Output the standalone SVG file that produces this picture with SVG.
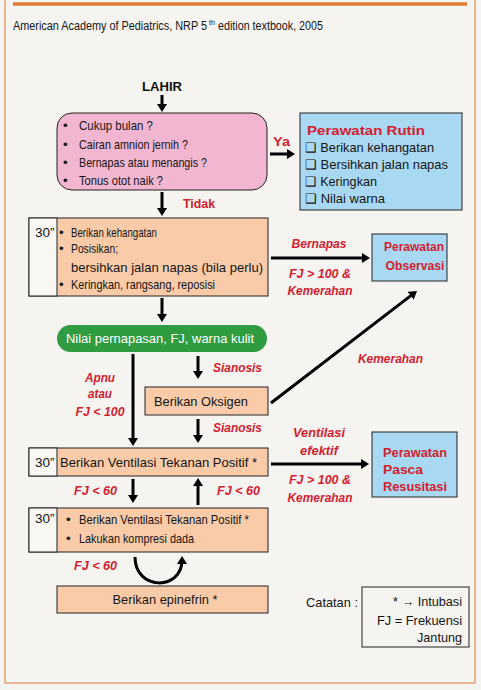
<svg xmlns="http://www.w3.org/2000/svg" width="481" height="690" viewBox="0 0 481 690">
<style>
.n{font-family:"Liberation Sans Narrow","Liberation Sans",Arial,sans-serif;font-size:13.5px;fill:#151515}
.r{font-family:"Liberation Sans",Arial,sans-serif;font-size:13px;fill:#151515}
.lbl{font-family:"Liberation Sans Narrow","Liberation Sans",Arial,sans-serif;font-size:13px;font-weight:bold;font-style:italic;fill:#d3212f}
.hd{font-family:"Liberation Sans",Arial,sans-serif;font-size:13px;font-weight:bold;fill:#d3212f}
.box{stroke:#222;stroke-width:1}
.peach{fill:#f9cba9}
.cell{fill:#f8f7f4}
.blue{fill:#a9d8f2}
.arr{stroke:#000;stroke-width:3;fill:none;marker-end:url(#ah)}
.mid{text-anchor:middle}
.end{text-anchor:end}
</style>
<defs>
<marker id="ah" markerUnits="userSpaceOnUse" viewBox="0 0 8 10" markerWidth="8" markerHeight="10" refX="4" refY="5" orient="auto">
<path d="M0,0 L8,5 L0,10 z" fill="#000"/>
</marker>
</defs>
<rect width="481" height="690" fill="#f6f4f1"/>
<g id="frame">
<path d="M5,0 V683 H475 V0" fill="none" stroke="#eba074" stroke-width="1.5"/>
<line x1="13" y1="4" x2="467" y2="4" stroke="#e27a32" stroke-width="3.5"/>
<text class="n" x="13" y="30" style="font-size:12.5px" textLength="194" lengthAdjust="spacingAndGlyphs">American Academy of Pediatrics, NRP 5</text>
<text class="n" x="209" y="24.5" style="font-size:7px">th</text>
<text class="n" x="218" y="30" style="font-size:12.5px" textLength="105" lengthAdjust="spacingAndGlyphs">edition textbook, 2005</text>
</g>
<g id="lahir">
<text x="162" y="91" class="mid" font-family="Liberation Sans, Arial, sans-serif" font-size="13" font-weight="bold" fill="#111" textLength="40" lengthAdjust="spacingAndGlyphs">LAHIR</text>
</g>
<g id="penilaian">
<rect x="57" y="113" width="210" height="77" rx="15" fill="#f2b6d0" class="box"/>
<text class="n" x="63" y="130">•</text><text class="n" x="79" y="130" textLength="74" lengthAdjust="spacingAndGlyphs">Cukup bulan ?</text>
<text class="n" x="63" y="148.5">•</text><text class="n" x="79" y="148.5" textLength="109" lengthAdjust="spacingAndGlyphs">Cairan amnion jernih ?</text>
<text class="n" x="63" y="167">•</text><text class="n" x="79" y="167" textLength="128" lengthAdjust="spacingAndGlyphs">Bernapas atau menangis ?</text>
<text class="n" x="63" y="185">•</text><text class="n" x="79" y="185" textLength="84" lengthAdjust="spacingAndGlyphs">Tonus otot naik ?</text>
</g>
<g id="rutin">
<rect x="300" y="113" width="162" height="97" class="blue box" stroke-width="1.5"/>
<text class="hd" x="307" y="135" textLength="118" lengthAdjust="spacingAndGlyphs">Perawatan Rutin</text>
<text class="r" x="305" y="152" textLength="129" lengthAdjust="spacingAndGlyphs">❑ Berikan kehangatan</text>
<text class="r" x="305" y="169" textLength="143" lengthAdjust="spacingAndGlyphs">❑ Bersihkan jalan napas</text>
<text class="r" x="305" y="186" textLength="72" lengthAdjust="spacingAndGlyphs">❑ Keringkan</text>
<text class="r" x="305" y="203" textLength="80" lengthAdjust="spacingAndGlyphs">❑ Nilai warna</text>
</g>
<g id="langkah-awal">
<rect x="29" y="218" width="239" height="78" class="peach box"/>
<rect x="29" y="218" width="28" height="78" class="cell box"/>
<text class="n" x="35" y="237">30”</text>
<text class="n" x="59" y="237">•</text><text class="n" x="71" y="237" textLength="86" lengthAdjust="spacingAndGlyphs">Berikan kehangatan</text>
<text class="n" x="59" y="253">•</text><text class="n" x="71" y="253" textLength="47" lengthAdjust="spacingAndGlyphs">Posisikan;</text>
<text class="r" x="71" y="272" textLength="192" lengthAdjust="spacingAndGlyphs">bersihkan jalan napas (bila perlu)</text>
<text class="n" x="59" y="289">•</text><text class="n" x="71" y="289" textLength="144" lengthAdjust="spacingAndGlyphs">Keringkan, rangsang, reposisi</text>
</g>
<g id="observasi">
<rect x="372" y="234" width="75" height="47" class="blue box" stroke-width="1.5"/>
<text class="hd mid" x="414" y="251" textLength="60" lengthAdjust="spacingAndGlyphs">Perawatan</text>
<text class="hd mid" x="415" y="270" textLength="59" lengthAdjust="spacingAndGlyphs">Observasi</text>
</g>
<g id="nilai">
<rect x="57" y="325" width="210" height="27" rx="13.5" fill="#2f9c42"/>
<text class="r mid" x="160" y="343" style="fill:#fff" textLength="188" lengthAdjust="spacingAndGlyphs">Nilai pernapasan, FJ, warna kulit</text>
</g>
<g id="oksigen">
<rect x="145" y="387" width="123" height="28" class="peach box"/>
<text class="r" x="154" y="406" textLength="94" lengthAdjust="spacingAndGlyphs">Berikan Oksigen</text>
</g>
<g id="vtp">
<rect x="29" y="448" width="239" height="28" class="peach box"/>
<rect x="29" y="448" width="28" height="28" class="cell box"/>
<text class="n" x="35" y="467">30”</text>
<text class="r" x="60" y="467" textLength="197" lengthAdjust="spacingAndGlyphs">Berikan Ventilasi Tekanan Positif *</text>
</g>
<g id="pasca">
<rect x="372" y="432" width="85" height="65" class="blue box" stroke-width="1.5"/>
<text class="hd" x="383" y="457" textLength="64" lengthAdjust="spacingAndGlyphs">Perawatan</text>
<text class="hd" x="383" y="474" textLength="40" lengthAdjust="spacingAndGlyphs">Pasca</text>
<text class="hd" x="383" y="491" textLength="64" lengthAdjust="spacingAndGlyphs">Resusitasi</text>
</g>
<g id="kompresi">
<rect x="29" y="508" width="239" height="44" class="peach box"/>
<rect x="29" y="508" width="28" height="44" class="cell box"/>
<text class="n" x="35" y="523">30”</text>
<text class="n" x="66" y="524">•</text><text class="n" x="79" y="524" textLength="170" lengthAdjust="spacingAndGlyphs">Berikan Ventilasi Tekanan Positif *</text>
<text class="n" x="66" y="543">•</text><text class="n" x="79" y="543" textLength="115" lengthAdjust="spacingAndGlyphs">Lakukan kompresi dada</text>
</g>
<g id="epinefrin">
<rect x="57" y="586" width="211" height="27" class="peach box"/>
<text class="n mid" x="165" y="604" textLength="105" lengthAdjust="spacingAndGlyphs">Berikan epinefrin *</text>
</g>
<g id="catatan">
<text class="r" x="306" y="607" textLength="52" lengthAdjust="spacingAndGlyphs">Catatan :</text>
<rect x="362" y="587" width="107" height="60" fill="none" class="box"/>
<text class="r end" x="462" y="606" textLength="69" lengthAdjust="spacingAndGlyphs">* → Intubasi</text>
<text class="r end" x="462" y="625" textLength="85" lengthAdjust="spacingAndGlyphs">FJ = Frekuensi</text>
<text class="r end" x="462" y="642" textLength="45" lengthAdjust="spacingAndGlyphs">Jantung</text>
</g>
<g id="connectors">
<line class="arr" x1="162" y1="95" x2="162" y2="108"/>
<line class="arr" x1="270" y1="154" x2="291" y2="154"/>
<line class="arr" x1="162" y1="192" x2="162" y2="212"/>
<line class="arr" x1="271" y1="258" x2="366" y2="258"/>
<line class="arr" x1="162" y1="298" x2="162" y2="318"/>
<line class="arr" x1="133" y1="354" x2="133" y2="442"/>
<line class="arr" x1="198" y1="356" x2="198" y2="375"/>
<line class="arr" x1="271" y1="403" x2="413.8" y2="293.4"/>
<line class="arr" x1="198" y1="419" x2="198" y2="439"/>
<line class="arr" x1="271" y1="464" x2="365" y2="464"/>
<line class="arr" x1="133" y1="479" x2="133" y2="499"/>
<line class="arr" x1="198" y1="505" x2="198" y2="482"/>
<path class="arr" d="M135,557 C135,591 182,591 182,560"/>
<text class="lbl" x="273" y="146" textLength="17" lengthAdjust="spacingAndGlyphs" style="font-style:normal">Ya</text>
<text class="lbl" x="183" y="208" textLength="32" lengthAdjust="spacingAndGlyphs" style="font-style:normal">Tidak</text>
<text class="lbl mid" x="319" y="248" textLength="55" lengthAdjust="spacingAndGlyphs">Bernapas</text>
<text class="lbl mid" x="320" y="278" textLength="62" lengthAdjust="spacingAndGlyphs">FJ &gt; 100 &amp;</text>
<text class="lbl mid" x="320" y="295" textLength="65" lengthAdjust="spacingAndGlyphs">Kemerahan</text>
<text class="lbl mid" x="100" y="382" textLength="30" lengthAdjust="spacingAndGlyphs">Apnu</text>
<text class="lbl mid" x="100" y="398" textLength="24" lengthAdjust="spacingAndGlyphs">atau</text>
<text class="lbl mid" x="100" y="416" textLength="49" lengthAdjust="spacingAndGlyphs">FJ &lt; 100</text>
<text class="lbl" x="213" y="372" textLength="49" lengthAdjust="spacingAndGlyphs">Sianosis</text>
<text class="lbl" x="358" y="363" textLength="65" lengthAdjust="spacingAndGlyphs">Kemerahan</text>
<text class="lbl" x="213" y="432" textLength="49" lengthAdjust="spacingAndGlyphs">Sianosis</text>
<text class="lbl mid" x="319" y="437" textLength="52" lengthAdjust="spacingAndGlyphs">Ventilasi</text>
<text class="lbl mid" x="319" y="455" textLength="38" lengthAdjust="spacingAndGlyphs">efektif</text>
<text class="lbl mid" x="320" y="484" textLength="62" lengthAdjust="spacingAndGlyphs">FJ &gt; 100 &amp;</text>
<text class="lbl mid" x="320" y="502" textLength="65" lengthAdjust="spacingAndGlyphs">Kemerahan</text>
<text class="lbl" x="74" y="495" textLength="43" lengthAdjust="spacingAndGlyphs">FJ &lt; 60</text>
<text class="lbl" x="217" y="495" textLength="43" lengthAdjust="spacingAndGlyphs">FJ &lt; 60</text>
<text class="lbl" x="74" y="570" textLength="43" lengthAdjust="spacingAndGlyphs">FJ &lt; 60</text>
</g>
</svg>
